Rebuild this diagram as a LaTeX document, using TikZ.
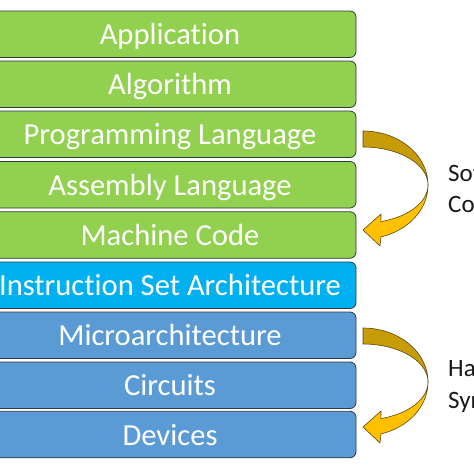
\documentclass[tikz,border=0pt]{standalone}
\usepackage{fontspec}
\setmainfont{Carlito}[Ligatures=NoCommon]
\definecolor{lgreen}{HTML}{92D050}
\definecolor{isablue}{HTML}{00B0F0}
\definecolor{hwblue}{HTML}{5B9BD5}
\definecolor{boxline}{HTML}{2B3A3F}
\definecolor{darkgold}{HTML}{C89B08}
\definecolor{lightgold}{HTML}{FFC000}
\definecolor{goldline}{HTML}{5A4812}
\tikzset{
  layer/.style={draw=boxline, line width=0.8pt, rounded corners=6pt,
    minimum width=372pt, minimum height=46.5pt, inner sep=0pt,
    text=white, text height=21pt, text depth=0pt,
    font=\fontsize{30.6}{30.6}\selectfont},
  sidelabel/.style={anchor=base west, inner sep=0pt, text=black!90,
    font=\fontsize{25}{25}\selectfont},
  backface/.style={fill=darkgold, draw=goldline, line width=0.6pt, line join=round},
  frontface/.style={fill=lightgold, draw=goldline, line width=0.6pt, line join=round}
}
\newcommand{\twistarrow}[1]{%
  \begin{scope}[shift={(0,#1)}]
    \path[backface] plot[domain=-90:0, samples=40] ({363+65*cos(\x)},{185+54*sin(\x)})
      -- plot[domain=0:-90, samples=40] ({363+65*cos(\x)},{185+38*sin(\x)}) -- cycle;
    \path[frontface] plot[domain=0:74, samples=40] ({363+65*cos(\x)},{185+54*sin(\x)})
      -- (380,246) -- (363,230) -- (381,214)
      -- plot[domain=74:0, samples=40] ({363+65*cos(\x)},{185+38*sin(\x)}) -- cycle;
  \end{scope}}
\begin{document}
\begin{tikzpicture}[x=1pt, y=-1pt]
\useasboundingbox (0,0) rectangle (474,474);
\clip (0,0) rectangle (474,474);
\fill[white] (0,0) rectangle (474,474);
\node[layer, fill=lgreen] (app)  at (170,34.25)  {Application};
\node[layer, fill=lgreen] (alg)  at (170,84.25)  {Algorithm};
\node[layer, fill=lgreen] (pl)   at (170,134.25) {Programming Language};
\node[layer, fill=lgreen] (asm)  at (170,184.75) {Assembly Language};
\node[layer, fill=lgreen] (mc)   at (170,235)    {Machine Code};
\node[layer, fill=isablue] (isa) at (170,285.25) {Instruction Set Architecture};
\node[layer, fill=hwblue] (ua)   at (170,335.25) {Microarchitecture};
\node[layer, fill=hwblue] (cir)  at (170,385.25) {Circuits};
\node[layer, fill=hwblue] (dev)  at (170,434.5)  {Devices};
\twistarrow{0}
\twistarrow{197}
\node[sidelabel] (sw1) at (448,181) {Software};
\node[sidelabel] (sw2) at (448,212) {Compilation};
\node[sidelabel] (hw1) at (448,376) {Hardware};
\node[sidelabel] (hw2) at (448,408) {Synthesis};
\end{tikzpicture}
\end{document}
